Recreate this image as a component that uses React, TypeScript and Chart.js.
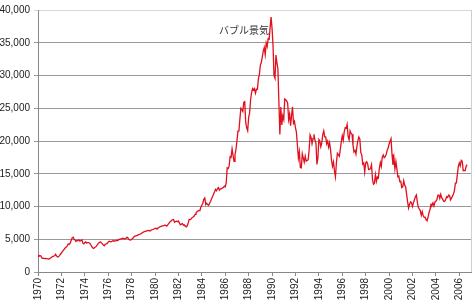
import React, { useEffect, useRef } from "react";
import { Chart, registerables } from "chart.js";
Chart.register(...registerables);

// Nikkei 225 monthly values, Jan 1970 onward
const startYear = 1970;
const v1970s = [
  2380, 2520, 2500, 2440, 2150, 2100, 2080, 2050, 2060, 2040, 2010, 1990,
  2050, 2150, 2250, 2400, 2420, 2480, 2700, 2450, 2300, 2350, 2500, 2714,
  2900, 3100, 3300, 3500, 3700, 3800, 4000, 4300, 4200, 4400, 4800, 5207,
  5300, 5000, 4900, 4650, 4800, 4850, 4900, 4700, 4800, 4900, 4400, 4306,
  4500, 4600, 4400, 4500, 4500, 4400, 4200, 3900, 3700, 3600, 3750, 3817,
  3950, 4200, 4400, 4500, 4600, 4450, 4300, 4100, 4000, 4250, 4300, 4358,
  4600, 4700, 4650, 4600, 4700, 4800, 4700, 4750, 4800, 4850, 4800, 4990,
  5000, 5050, 5100, 5150, 5100, 5050, 5100, 5300, 5250, 5000, 4900, 4865,
  5000, 5100, 5300, 5450, 5500, 5550, 5600, 5700, 5750, 5800, 5900, 6001,
  6100, 6150, 6200, 6250, 6300, 6350, 6300, 6250, 6400, 6450, 6500, 6569,
];
const v1980s = [
  6650, 6700, 6600, 6700, 6800, 6900, 6950, 7000, 7050, 7100, 7150, 7116,
  7000, 7200, 7400, 7600, 7700, 7900, 7950, 8000, 7600, 7700, 7750, 7681,
  7800, 7500, 7200, 7300, 7400, 7150, 7200, 7000, 6900, 7050, 7500, 8016,
  8000, 8100, 8300, 8400, 8500, 8800, 9000, 9200, 9300, 9400, 9350, 9893,
  10200, 10500, 11100, 11300, 10300, 10500, 10300, 10200, 10500, 10800, 11200, 11542,
  11900, 12200, 12600, 12400, 12700, 12900, 12500, 12700, 12700, 12800, 12900, 13113,
  13000, 13600, 15900, 15800, 16200, 17600, 17500, 18800, 17800, 16900, 17900, 18701,
  20000, 21500, 21500, 23300, 25000, 24800, 24500, 25900, 26000, 22800, 22000, 21564,
  23600, 24300, 26300, 27400, 28000, 27800, 28000, 27300, 27900, 27900, 29500, 30159,
  31581, 31985, 32839, 33713, 34267, 33183, 34954, 34431, 35636, 35549, 37269, 38916,
];
const v1990s = [
  37189, 34592, 29980, 29585, 33131, 31940, 31036, 25978, 20984, 25194, 22454, 23849,
  23293, 26409, 26292, 26111, 25790, 23291, 24121, 22336, 23916, 25222, 22687, 22984,
  22023, 21339, 19346, 17391, 18348, 15951, 15910, 18061, 17399, 16768, 17684, 16925,
  17024, 17113, 18591, 20919, 20552, 19590, 20380, 21027, 20106, 19703, 16408, 17417,
  20229, 19997, 19111, 19725, 20974, 21552, 20642, 20629, 19564, 19990, 19076, 19723,
  18650, 17053, 16140, 16807, 15437, 14517, 16678, 18117, 17913, 17655, 18744, 19868,
  20813, 20125, 21407, 22041, 21956, 22531, 20693, 20167, 21556, 21197, 21020, 19361,
  18330, 18557, 18003, 19151, 20068, 20605, 20331, 18229, 17888, 16458, 16636, 15259,
  16628, 16831, 16527, 15641, 15671, 15830, 16379, 14108, 13406, 13564, 14883, 13842,
  14499, 14368, 15837, 16702, 16112, 17530, 17862, 17437, 17605, 17942, 18558, 18934,
];
const v2000s = [
  19540, 19960, 20337, 17974, 16332, 17411, 15727, 16861, 15747, 14539, 14649, 13786,
  13844, 12884, 12999, 13934, 13262, 12969, 11861, 10714, 9775, 10366, 10697, 10543,
  9998, 10588, 11025, 11493, 11764, 10622, 9878, 9619, 9383, 8640, 9216, 8579,
  8340, 8363, 7973, 7831, 8425, 9083, 9563, 10344, 10219, 10560, 10101, 10677,
  10784, 11042, 11715, 11762, 11237, 11859, 11326, 11082, 10824, 10771, 11069, 11489,
  11388, 11741, 11669, 11009, 11277, 11584, 11900, 12414, 13574, 13607, 14872, 16111,
  16650, 16206, 17060, 16907, 15468, 15506, 15457, 16141, 16400,
];

const annotationText = "バブル景気";
const annotationX = 1987.6;
const annotationY = 36900;

const xMin = 1970;
const xMax = 2007;
const xStep = 2;
const yMin = 0;
const yMax = 40000;
const yStep = 5000;

export default function App() {
  const ref = useRef<HTMLCanvasElement>(null);
  useEffect(() => {
    document.body.style.margin = "0";
    const values = [...v1970s, ...v1980s, ...v1990s, ...v2000s];
    const points = values.map((v, i) => ({ x: startYear + i / 12, y: v }));

    const annotationPlugin = {
      id: "anno",
      afterDatasetsDraw(chart: any) {
        const { ctx, scales, chartArea } = chart;
        ctx.save();
        // right border of plot area
        ctx.strokeStyle = "#cfcfcf";
        ctx.lineWidth = 1;
        ctx.beginPath();
        ctx.moveTo(Math.round(chartArea.right) + 0.5, chartArea.top);
        ctx.lineTo(Math.round(chartArea.right) + 0.5, chartArea.bottom);
        ctx.stroke();
        ctx.font = "10px 'Noto Sans CJK JP'";
        ctx.fillStyle = "#333";
        ctx.textAlign = "center";
        ctx.textBaseline = "middle";
        ctx.fillText(
          annotationText,
          scales.x.getPixelForValue(annotationX),
          scales.y.getPixelForValue(annotationY)
        );
        ctx.restore();
      },
    };

    const chart = new Chart(ref.current!, {
      type: "line",
      data: {
        datasets: [
          {
            data: points,
            borderColor: "#e0101e",
            borderWidth: 1.3,
            pointRadius: 0,
            tension: 0,
            fill: false,
          },
        ],
      },
      options: {
        animation: false,
        responsive: false,
        devicePixelRatio: 1,
        layout: { padding: { top: 7, right: 3, left: 0, bottom: 0 } },
        plugins: { legend: { display: false }, tooltip: { enabled: false } },
        scales: {
          x: {
            type: "linear",
            min: xMin,
            max: xMax,
            afterFit: (s: any) => {
              s.height = 30;
            },
            ticks: {
              stepSize: xStep,
              includeBounds: false,
              autoSkip: false,
              maxRotation: 90,
              minRotation: 90,
              padding: 2,
              callback: (v: any) => String(v),
              font: { family: "Liberation Sans", size: 10 },
              color: "#222",
            },
            grid: { drawOnChartArea: false, drawTicks: true, tickLength: 4, color: "#888" },
            border: { color: "#888", width: 1 },
          },
          y: {
            min: yMin,
            max: yMax,
            afterFit: (s: any) => {
              s.width = 38;
            },
            ticks: {
              stepSize: yStep,
              padding: 4,
              callback: (v: any) => Number(v).toLocaleString("en-US"),
              font: { family: "Liberation Sans", size: 10 },
              color: "#222",
            },
            grid: {
              color: (c: any) => (c.tick && c.tick.value === yMax ? "#d8d8d8" : "#999"),
              tickLength: 4,
            },
            border: { color: "#888", width: 1 },
          },
        },
      },
      plugins: [annotationPlugin],
    });
    return () => chart.destroy();
  }, []);
  return <canvas ref={ref} width={474} height={302} style={{ display: "block" }} />;
}
